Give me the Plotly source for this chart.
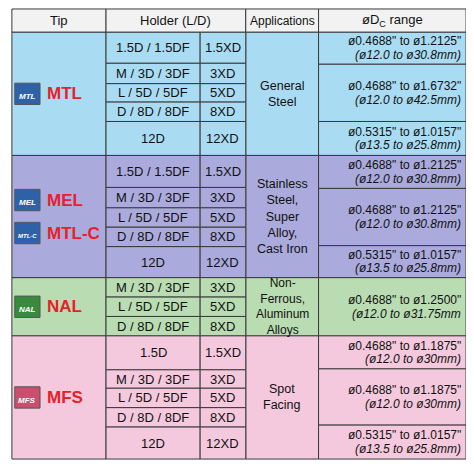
import plotly.graph_objects as go

# ---- table content ----
header = ["Tip", "Holder (L/D)", "Applications", "øD<sub>C</sub> range"]
tips = [["MTL"], ["MEL", "MTL-C"], ["NAL"], ["MFS"]]
holders = [
    ["1.5D / 1.5DF", "M / 3D / 3DF", "L / 5D / 5DF", "D / 8D / 8DF", "12D"],
    ["1.5D / 1.5DF", "M / 3D / 3DF", "L / 5D / 5DF", "D / 8D / 8DF", "12D"],
    ["M / 3D / 3DF", "L / 5D / 5DF", "D / 8D / 8DF"],
    ["1.5D", "M / 3D / 3DF", "L / 5D / 5DF", "D / 8D / 8DF", "12D"],
]
xd = [
    ["1.5XD", "3XD", "5XD", "8XD", "12XD"],
    ["1.5XD", "3XD", "5XD", "8XD", "12XD"],
    ["3XD", "5XD", "8XD"],
    ["1.5XD", "3XD", "5XD", "8XD", "12XD"],
]
applications = ["General<br>Steel", "Stainless<br>Steel,<br>Super<br>Alloy,<br>Cast Iron",
                "Non-<br>Ferrous,<br>Aluminum<br>Alloys", "Spot<br>Facing"]
dc_inch = [
    ['ø0.4688" to ø1.2125"', 'ø0.4688" to ø1.6732"', 'ø0.5315" to ø1.0157"'],
    ['ø0.4688" to ø1.2125"', 'ø0.4688" to ø1.2125"', 'ø0.5315" to ø1.0157"'],
    ['ø0.4688" to ø1.2500"'],
    ['ø0.4688" to ø1.1875"', 'ø0.4688" to ø1.1875"', 'ø0.5315" to ø1.0157"'],
]
dc_mm = [
    ["(ø12.0 to ø30.8mm)", "(ø12.0 to ø42.5mm)", "(ø13.5 to ø25.8mm)"],
    ["(ø12.0 to ø30.8mm)", "(ø12.0 to ø30.8mm)", "(ø13.5 to ø25.8mm)"],
    ["(ø12.0 to ø31.75mm"],
    ["(ø12.0 to ø30mm)", "(ø12.0 to ø30mm)", "(ø13.5 to ø25.8mm)"],
]

# ---- layout geometry (pixels of the reference) ----
cols = [4, 101, 198, 245, 320, 472]
head_y = (1, 25)
holder_rows = [
    [25, 57, 78, 97, 117, 152],
    [152, 185, 206, 226, 246, 278],
    [278, 298, 318, 338],
    [338, 373, 392, 412, 432, 465],
]
dc_rows = [[25, 58, 117, 152], [152, 186, 245, 278], [278, 338], [338, 372, 430, 465]]
fills = ["#a9dcf3", "#aaaadc", "#b9dcb2", "#f5c9dd"]
icon_cols = ["#2d62a8", "#2d62a8", "#3a8a3e", "#c8506e"]
line = "#3a3a3a"
font = "Liberation Sans, Arial, sans-serif"

shapes, ann = [], []

def rect(x0, y0, x1, y1, fill):
    shapes.append(dict(type="rect", x0=x0, y0=y0, x1=x1, y1=y1, fillcolor=fill,
                       line=dict(color=line, width=1), layer="below"))

def text(x, y, t, size=13, color="#111", **kw):
    ann.append(dict(x=x, y=y, text=t, showarrow=False, xref="x", yref="y",
                    font=dict(family=font, size=size, color=color), **kw))

# header
spans = [(cols[0], cols[1]), (cols[1], cols[3]), (cols[3], cols[4]), (cols[4], cols[5])]
for (x0, x1), h in zip(spans, header):
    rect(x0, head_y[0], x1, head_y[1], "#f2f2f2")
    text((x0 + x1) / 2, 13, h, size=13 if h != "Applications" else 12)

for s in range(4):
    hr, dr = holder_rows[s], dc_rows[s]
    top, bot = hr[0], hr[-1]
    rect(cols[0], top, cols[1], bot, fills[s])
    rect(cols[3], top, cols[4], bot, fills[s])
    for r in range(len(holders[s])):
        rect(cols[1], hr[r], cols[2], hr[r + 1], fills[s])
        rect(cols[2], hr[r], cols[3], hr[r + 1], fills[s])
        text((cols[1] + cols[2]) / 2, (hr[r] + hr[r + 1]) / 2, holders[s][r])
        text((cols[2] + cols[3]) / 2, (hr[r] + hr[r + 1]) / 2, xd[s][r])
    text((cols[3] + cols[4]) / 2, (top + bot) / 2, applications[s], size=12.5 if s != 2 else 12)
    for r in range(len(dc_inch[s])):
        rect(cols[4], dr[r], cols[5], dr[r + 1], fills[s])
        cy = (dr[r] + dr[r + 1]) / 2
        text(cols[5] - 3, cy - 7, dc_inch[s][r], size=12, xanchor="right")
        text(cols[5] - 3, cy + 7, "<i>" + dc_mm[s][r] + "</i>", size=12, xanchor="right")
    # tip names + icons
    n = len(tips[s])
    for k, lab in enumerate(tips[s]):
        cy = (top + bot) / 2 + (k - (n - 1) / 2) * 34
        shapes.append(dict(type="rect", x0=7, y0=cy - 11, x1=33, y1=cy + 11,
                           fillcolor=icon_cols[s], line=dict(color="#555", width=1)))
        text(20, cy + 3, "<b><i>" + lab + "</i></b>", size=6 if len(lab) > 3 else 8, color="white")
        text(38, cy, "<b>" + lab + "</b>", size=17, color="#e8202a", xanchor="left")

fig = go.Figure()
fig.update_layout(
    width=460, height=453, margin=dict(l=0, r=0, t=0, b=0),
    paper_bgcolor="white", plot_bgcolor="white",
    xaxis=dict(range=[0, 474], visible=False, fixedrange=True),
    yaxis=dict(range=[467, 0], visible=False, fixedrange=True),
    shapes=shapes, annotations=ann, showlegend=False,
)
fig.write_html("out.html")
